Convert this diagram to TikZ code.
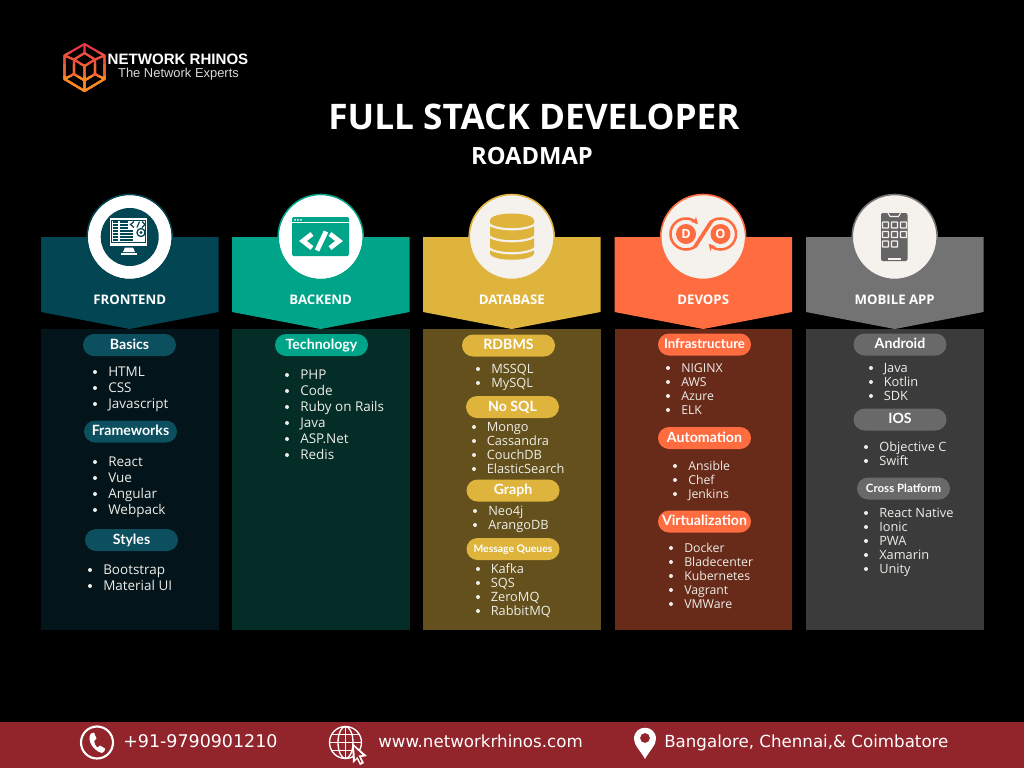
\documentclass[tikz,border=0pt]{standalone}
\usepackage{xcolor}
\usepackage{fontspec}
\setmainfont{Open Sans}
\newfontfamily\pillfont{Lato}
\newfontfamily\logofont{Liberation Sans}
\newfontfamily\footfont{DejaVu Sans}
\usetikzlibrary{arrows.meta, positioning, shapes.misc}
\definecolor{nrteal}{RGB}{2, 69, 83}
\definecolor{nrgreen}{RGB}{0, 164, 136}
\definecolor{nrgold}{RGB}{223, 180, 60}
\definecolor{nrorange}{RGB}{255, 108, 64}
\definecolor{nrgrey}{RGB}{115, 115, 115}
\definecolor{nrpillteal}{RGB}{12, 79, 95}
\definecolor{nrpillgrey}{RGB}{105, 105, 105}
\definecolor{nrdarkteal}{RGB}{3, 20, 26}
\definecolor{nrdarkgreen}{RGB}{4, 45, 39}
\definecolor{nrdarkgold}{RGB}{99, 80, 28}
\definecolor{nrdarkorange}{RGB}{104, 42, 25}
\definecolor{nrdarkgrey}{RGB}{59, 59, 59}
\definecolor{nrfooter}{RGB}{146, 36, 43}
\definecolor{nrcream}{RGB}{245, 242, 237}
\definecolor{nrtext}{RGB}{238, 238, 232}
\definecolor{nrlogored}{RGB}{232, 56, 72}
\definecolor{nrlogoorange}{RGB}{247, 140, 30}
\tikzset{
  headlabel/.style={text=white, font=\bfseries\fontsize{9.9pt}{12pt}\selectfont, inner sep=0pt},
  pillbox/.style={rounded rectangle, minimum width=69.75pt, minimum height=16.5pt, inner sep=0pt, text=white,
    text height=8pt, text depth=1.4pt, font=\pillfont\bfseries\fontsize{10.6pt}{12pt}\selectfont},
  itemtext/.style={anchor=base west, inner sep=0pt, text=nrtext, font=\fontsize{9.6pt}{12pt}\selectfont},
  foottext/.style={anchor=base west, inner sep=0pt, text=white, font=\footfont\fontsize{12.5pt}{14pt}\selectfont}
}
% bullet list: prefix, bullet x, text x, first y, line distance, entries
\newcommand{\itemlist}[6]{
  \foreach \t [count=\i from 0] in {#6} {
    \fill[nrtext] (#2,{#4+#5*\i}) circle (2);
    \node[itemtext] (#1\i) at (#3,{#4+#5*\i+4.8}) {\t};
  }
}
\newcommand{\logowire}{
  (84.5,44) -- (104.5,55.5) -- (104.5,79) -- (84.5,91) -- (64.5,79) -- (64.5,55.5) -- cycle
  (84.5,53) -- (95,59.5) -- (95,74) -- (84.5,80.5) -- (74,74) -- (74,59.5) -- cycle
  (84.5,44) -- (84.5,53) (104.5,55.5) -- (95,59.5) (104.5,79) -- (95,74)
  (84.5,91) -- (84.5,80.5) (64.5,79) -- (74,74) (64.5,55.5) -- (74,59.5)
  (74,59.5) -- (84.5,66) -- (95,59.5) (84.5,66) -- (84.5,80.5)
}
\begin{document}
\begin{tikzpicture}[x=0.75pt, y=-0.75pt]
\fill[black] (0,0) rectangle (1024,768);
\useasboundingbox (0,0) rectangle (1024,768);

% Logo
\foreach \ytop/\ymix in {40/0, 52/30, 64/55, 76/100} {
  \begin{scope}
    \clip (60,\ytop) rectangle (110,95);
    \draw[nrlogoorange!\ymix!nrlogored, line width=1.6pt, line join=round] \logowire;
  \end{scope}
}
\node[inner sep=0pt, text=white, font=\logofont\bfseries\fontsize{11.3pt}{12pt}\selectfont] (logoname) at (178,59) {NETWORK RHINOS};
\node[inner sep=0pt, text=white!85!black, font=\logofont\fontsize{9.7pt}{12pt}\selectfont] (logosub) at (178.5,74) {The Network Experts};

% Titles
\node[inner sep=0pt, text=white, font=\bfseries\fontsize{26.4pt}{28pt}\selectfont] (title) at (534,116.5) {FULL STACK DEVELOPER};
\node[inner sep=0pt, text=white, font=\bfseries\fontsize{17.8pt}{20pt}\selectfont] (subtitle) at (532,156.5) {ROADMAP};

% Headers and panels
\foreach \hx/\hcol/\pcol/\htxt [count=\c] in {41/nrteal/nrdarkteal/FRONTEND, 232/nrgreen/nrdarkgreen/BACKEND,
    423/nrgold/nrdarkgold/DATABASE, 614.5/nrorange/nrdarkorange/DEVOPS, 806/nrgrey/nrdarkgrey/MOBILE APP} {
  \fill[\pcol] (\hx,329) rectangle ({\hx+177.5},630);
  \fill[\hcol] (\hx,237) -- ({\hx+177.5},237) -- ({\hx+177.5},312) -- ({\hx+88.7},329) -- (\hx,312) -- cycle;
  \draw[\hcol, line width=1.2pt, fill=nrcream] ({\hx+88.7},237) circle (42.5);
  \node[headlabel] (head\c) at ({\hx+88.7},299.7) {\htxt};
}
\fill[white] (129.7,237) circle (41.5);
\fill[white] (320.7,237) circle (41.5);

% Frontend icon
\fill[nrteal] (129.7,237) circle (29);
\fill[white] (110,218) rectangle (147,246);
\fill[white] (125,247.5) -- (133,247.5) -- (135,252) -- (123,252) -- cycle;
\fill[white] (121,252.5) rectangle (137,255);
\fill[nrteal] (111,219.5) rectangle (146,243);
\fill[white] (112,220.5) rectangle (145,242);
\foreach \y in {222,225,228,231,234,237,240}
  \draw[nrteal, line width=0.9pt] (112.5,\y) -- (117.5,\y);
\foreach \y in {222,225,228}
  \draw[nrteal, line width=0.8pt] (120,\y) -- (128,\y);
\foreach \y in {231,234,237,240}
  \draw[nrteal, line width=0.8pt] (120,\y) -- (133,\y);
\draw[nrteal, line width=0.9pt] (134,221.5) -- (130.5,224.5) -- (134,227.5) (137,227.5) -- (139.5,221.5) (142,221.5) -- (145,224.5) -- (142,227.5);
\draw[nrteal, line width=1pt] (141,232.5) circle (4);
\fill[nrteal] (141,232.5) circle (1.6);

% Backend icon
\fill[nrgreen, rounded corners=1pt] (292,217) rectangle (349,256);
\draw[white, line width=0.6pt] (292,222.5) -- (349,222.5);
\foreach \x in {295,298,301}
  \fill[white] (\x,219.8) circle (1);
\draw[white, line width=3.6pt] (312,234) -- (303,241) -- (312,248) (326,231.5) -- (317,250.5) (330,234) -- (339,241) -- (330,248);

% Database icon
\fill[nrgold] (490,220) -- (534,220) -- (534,253) .. controls (534,262) and (490,262) .. (490,253) -- cycle;
\fill[nrgold] (512,220) ellipse (22 and 6.5);
\foreach \y in {224,236,248}
  \draw[nrcream, line width=1.6pt] (489,\y) .. controls (496,{\y+7}) and (528,{\y+7}) .. (535,\y);

% DevOps icon
\foreach \cx/\cy/\ltr in {686/234/D, 720.5/234/O} {
  \fill[nrorange] (\cx,\cy) circle (10);
  \node[inner sep=0pt, text=white, font=\bfseries\fontsize{9.5pt}{10pt}\selectfont] (dev\ltr) at (\cx,\cy) {\ltr};
}
\draw[nrorange, line width=1.9pt, -{Stealth[length=5pt,width=5.5pt]}] (713,220) -- (695.5,247)
  plot[domain=-50:-320, samples=40] ({686+15.5*cos(\x)},{234-15.5*sin(\x)});
\draw[nrorange, line width=1.9pt, -{Stealth[length=5pt,width=5.5pt]}] (693.5,248) -- (711,221)
  plot[domain=130:-140, samples=40] ({720.5+15.5*cos(\x)},{234-15.5*sin(\x)});

% Mobile icon
\fill[nrgrey!88!black, rounded corners=1.5pt] (881,213) rectangle (907.5,261);
\draw[nrcream, line width=0.8pt] (888,213) -- (890,216.5) -- (898.5,216.5) -- (900.5,213);
\draw[nrcream, line width=0.9pt] (888,259) -- (900.5,259);
\foreach \ax/\ay in {885.5/225, 894.5/225, 903.5/225, 885.5/234.5, 894.5/234.5, 903.5/234.5, 885.5/244, 894.5/244}
  \draw[nrcream, line width=0.9pt, rounded corners=0.4pt] ({\ax-3},{\ay-3}) rectangle ({\ax+3},{\ay+3});

% Frontend list
\begin{scope}[itemtext/.append style={font=\fontsize{10.1pt}{12pt}\selectfont}]
\node[pillbox, fill=nrpillteal] (basics) at (129.5,345) {Basics};
\itemlist{html}{95}{108}{372}{16}{HTML, CSS, Javascript}
\node[pillbox, fill=nrpillteal] (frameworks) at (130.5,431.5) {Frameworks};
\itemlist{react}{95}{108}{462}{16}{React, Vue, Angular, Webpack}
\node[pillbox, fill=nrpillteal] (styles) at (131.5,540) {Styles};
\itemlist{boot}{90}{103}{570}{16}{Bootstrap, Material UI}

% Backend list
\node[pillbox, fill=nrgreen] (tech) at (321.5,345) {Technology};
\itemlist{php}{287}{300}{375}{16}{PHP, Code, Ruby on Rails, Java, ASP.Net, Redis}
\end{scope}

% Database list
\node[pillbox, fill=nrgold] (rdbms) at (508.5,345.5) {RDBMS};
\itemlist{mssql}{478}{491}{369}{14}{MSSQL, MySQL}
\node[pillbox, fill=nrgold] (nosql) at (512.5,407) {No SQL};
\itemlist{mongo}{474}{486.5}{427}{14}{Mongo, Cassandra, CouchDB, ElasticSearch}
\node[pillbox, fill=nrgold] (graph) at (513,490.5) {Graph};
\itemlist{neo}{475}{488}{511}{14}{Neo4j, ArangoDB}
\node[pillbox, fill=nrgold, text height=6.2pt, text depth=1.2pt, font=\pillfont\bfseries\fontsize{7.8pt}{10pt}\selectfont] (queues) at (513,549) {Message Queues};
\itemlist{kafka}{478}{490.5}{569}{14}{Kafka, SQS, ZeroMQ, RabbitMQ}

% DevOps list
\begin{scope}[itemtext/.append style={font=\fontsize{9.2pt}{12pt}\selectfont}]
\node[pillbox, fill=nrorange, text height=7.6pt, text depth=1.4pt, font=\pillfont\bfseries\fontsize{9.9pt}{11pt}\selectfont] (infra) at (704.5,344.5) {Infrastructure};
\itemlist{nginx}{668}{681}{368}{14}{NIGINX, AWS, Azure, ELK}
\node[pillbox, fill=nrorange] (auto) at (704.5,438) {Automation};
\itemlist{ansible}{675}{688}{466}{14}{Ansible, Chef, Jenkins}
\node[pillbox, fill=nrorange] (virt) at (704.5,521.5) {Virtualization};
\itemlist{docker}{671}{684}{548}{14}{Docker, Bladecenter, Kubernetes, Vagrant, VMWare}
\end{scope}

% Mobile list
\node[pillbox, fill=nrpillgrey] (android) at (900,344.5) {Android};
\itemlist{java}{871}{883.5}{368}{14}{Java, Kotlin, SDK}
\node[pillbox, fill=nrpillgrey] (ios) at (900,419.5) {IOS};
\itemlist{objc}{866}{879}{447}{14}{Objective C, Swift}
\node[pillbox, fill=nrpillgrey, text height=6.8pt, text depth=1.2pt, font=\pillfont\bfseries\fontsize{8.6pt}{10pt}\selectfont] (cross) at (903.5,488.5) {Cross Platform};
\itemlist{native}{866}{879}{513}{14}{React Native, Ionic, PWA, Xamarin, Unity}

% Footer
\fill[nrfooter] (0,722) rectangle (1024,768);
\draw[white, line width=1.6pt] (97,742.5) circle (16);
\fill[white] (91,733.5) .. controls (87,738) and (91,750) .. (102,753) .. controls (104.5,752) and (105.5,750) .. (105,748.5)
  -- (100,745.5) -- (97.5,747.5) .. controls (95,746) and (94,742) .. (94.5,740.5) -- (96.5,738.5) -- (94,732.5) -- cycle;
\node[foottext, font=\footfont\fontsize{13.1pt}{14pt}\selectfont] (phone) at (123,747) {+91-9790901210};
% globe with pointer
\begin{scope}[white, line width=1pt]
  \draw (345.5,742.5) circle (16);
  \draw (345.5,742.5) ellipse (7.5 and 16);
  \draw (345.5,726.5) -- (345.5,758.5) (331.5,734.5) -- (359.5,734.5) (329.5,742.5) -- (361.5,742.5) (331.5,750.5) -- (359.5,750.5);
\end{scope}
\fill[white] (352,743) -- (367,756) -- (361,757) -- (364,763) -- (360,765) -- (357,759) -- (353,763) -- cycle;
\fill[nrfooter] (354,747) -- (362.5,755) -- (358.5,755.5) -- (361.5,762) -- (360.5,762.5) -- (357.5,756.5) -- (355,759.5) -- cycle;
\node[foottext] (web) at (378,747) {www.networkrhinos.com};
% location pin
\fill[white, even odd rule] (645,759) .. controls (640,750) and (634,745) .. (634,739) .. controls (634,724) and (656,724) .. (656,739) .. controls (656,745) and (650,750) .. (645,759) -- cycle (645,738) circle (5);
\node[foottext] (city) at (664,747) {Bangalore, Chennai,\& Coimbatore};
\end{tikzpicture}
\end{document}
